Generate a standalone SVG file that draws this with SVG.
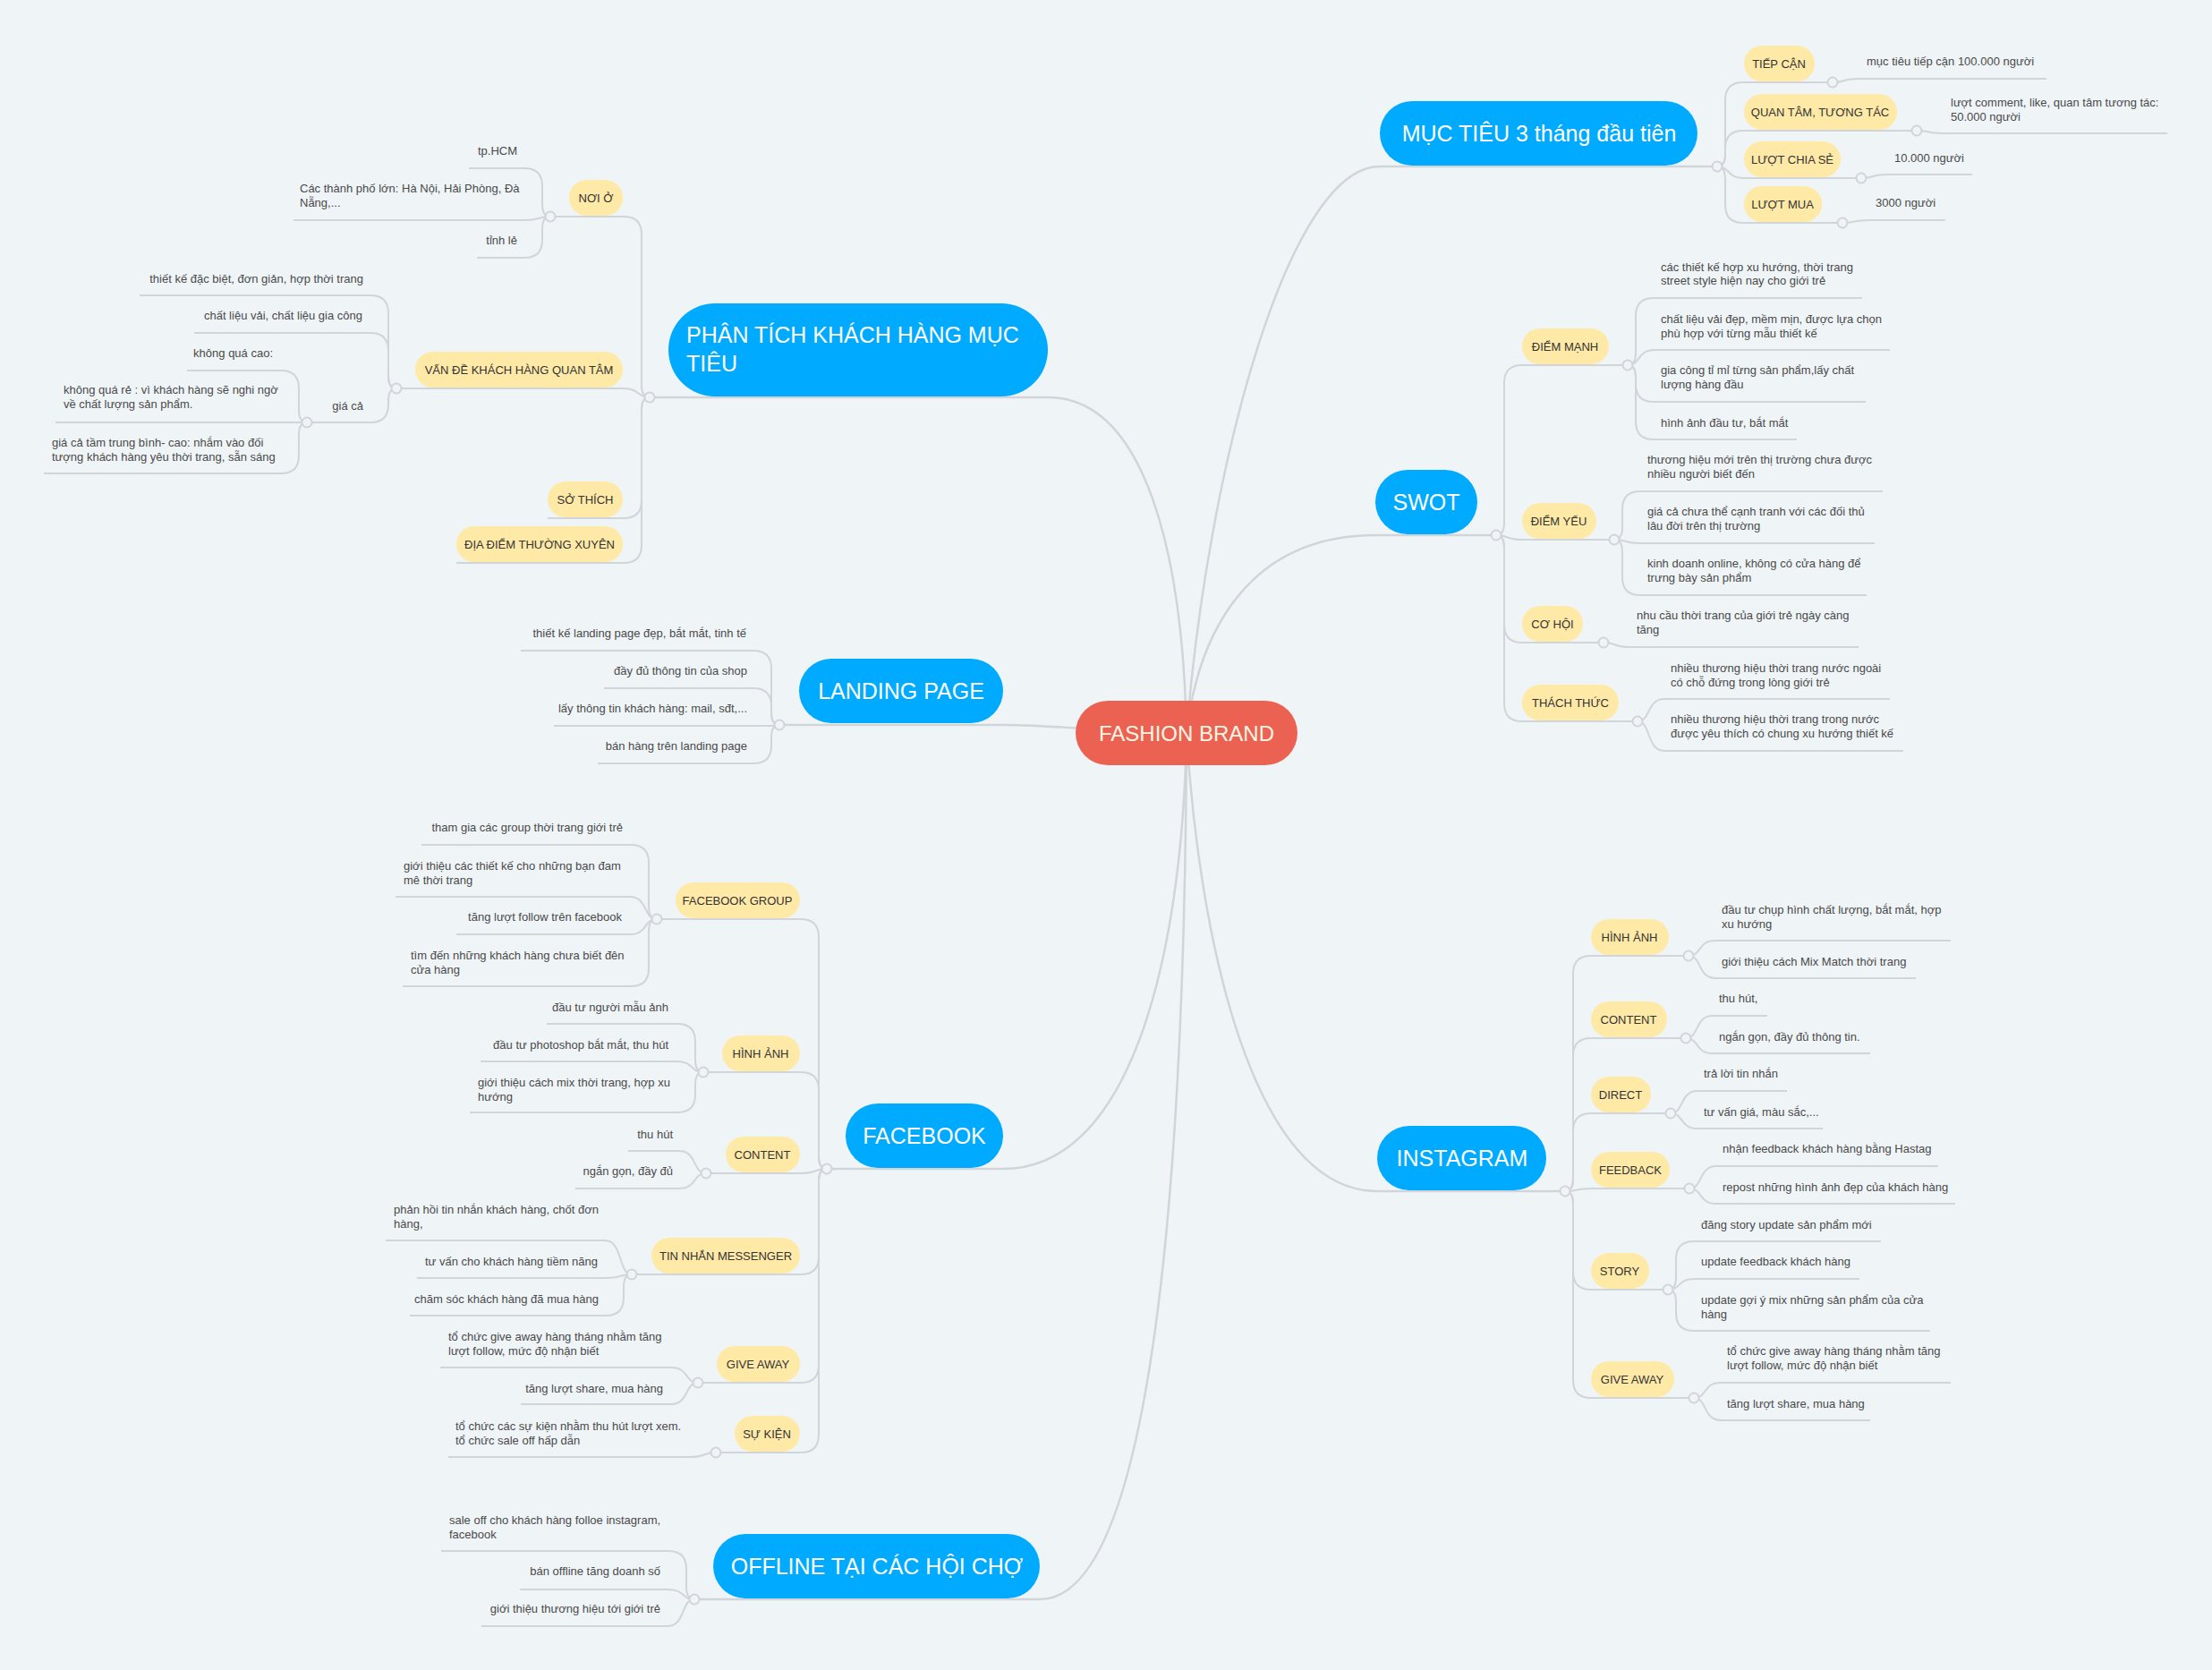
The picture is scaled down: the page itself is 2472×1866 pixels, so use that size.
<svg xmlns="http://www.w3.org/2000/svg" width="2472" height="1866" viewBox="0 0 2472 1866">
<style>
text{font-family:"Liberation Sans",Arial,sans-serif}
.c{fill:none;stroke:#D1D5D9;stroke-width:2}
.cm{fill:none;stroke:#D1D5D9;stroke-width:2.5}
.hub{fill:#EFF4F7;stroke:#D1D5D9;stroke-width:2}
.main rect{fill:#00AAFF}
.main text{fill:#FFFFFF;font-size:25px;text-anchor:middle}
.center rect{fill:#EB6253}
.center text{fill:#FFF6E5;font-size:24px;text-anchor:middle}
.sub rect{fill:#FFE9A7}
.sub text{fill:#333333;font-size:13px;text-anchor:middle}
.leaf text{fill:#4A4A4A;font-size:13px}
.e{text-anchor:end}
</style>
<rect x="0" y="0" width="2472" height="1866" fill="#EFF4F7"/>
<g id="connectors">
<!-- main -->
<path class="cm" d="M1326,819 C1322,620 1280,444 1171,444 L726,444"/>
<path class="cm" d="M1326,819 C1230,817 1170,810 1121,810 L871,810"/>
<path class="cm" d="M1326,819 C1322,1050 1270,1306 1121,1306 L924,1306"/>
<path class="cm" d="M1326,819 C1324,1300 1290,1787 1162,1787 L776,1787"/>
<path class="cm" d="M1326,819 C1350,520 1440,186 1542,186 L1919,186"/>
<path class="cm" d="M1326,819 C1340,700 1400,598 1537,598 L1672,598"/>
<path class="cm" d="M1326,819 C1340,1050 1400,1331 1539,1331 L1749,1331"/>
<!-- phan tich -->
<path class="c" d="M726,444 Q717,444 717,430 L717,262 Q717,242 697,242 L615,242"/>
<path class="c" d="M726,444 C711,444 716,434 696,434 L443,434"/>
<path class="c" d="M726,444 Q717,444 717,458 L717,559 Q717,579 697,579 L612,579"/>
<path class="c" d="M726,444 Q717,444 717,458 L717,609 Q717,629 697,629 L510,629"/>
<path class="c" d="M615,242 Q606,242 606,228 L606,208 Q606,188 586,188 L524,188"/>
<path class="c" d="M615,242 C600,242 605,246 585,246 L328,246"/>
<path class="c" d="M615,242 Q606,242 606,256 L606,268 Q606,288 586,288 L533,288"/>
<path class="c" d="M443,434 Q434,434 434,420 L434,350 Q434,330 414,330 L156,330"/>
<path class="c" d="M443,434 Q434,434 434,420 L434,392 Q434,372 414,372 L217,372"/>
<path class="c" d="M443,434 Q434,434 434,448 L434,452 Q434,472 414,472 L343,472"/>
<path class="c" d="M343,472 Q334,472 334,458 L334,434 Q334,414 314,414 L209,414"/>
<path class="c" d="M343,472 L62,472"/>
<path class="c" d="M343,472 Q334,472 334,486 L334,509 Q334,529 314,529 L49,529"/>
<!-- landing -->
<path class="c" d="M871,810 Q862,810 862,796 L862,747 Q862,727 842,727 L582,727"/>
<path class="c" d="M871,810 Q862,810 862,796 L862,789 Q862,769 842,769 L675,769"/>
<path class="c" d="M871,811 L619,811"/>
<path class="c" d="M871,810 Q862,810 862,824 L862,833 Q862,853 842,853 L668,853"/>
<!-- facebook -->
<path class="c" d="M924,1306 Q915,1306 915,1292 L915,1047 Q915,1027 895,1027 L734,1027"/>
<path class="c" d="M924,1306 Q915,1306 915,1292 L915,1218 Q915,1198 895,1198 L786,1198"/>
<path class="c" d="M924,1306 C909,1306 914,1311 894,1311 L789,1311"/>
<path class="c" d="M924,1306 Q915,1306 915,1320 L915,1404 Q915,1424 895,1424 L706,1424"/>
<path class="c" d="M924,1306 Q915,1306 915,1320 L915,1525 Q915,1545 895,1545 L780,1545"/>
<path class="c" d="M924,1306 Q915,1306 915,1320 L915,1603 Q915,1623 895,1623 L800,1623"/>
<path class="c" d="M734,1027 Q725,1027 725,1013 L725,964 Q725,944 705,944 L471,944"/>
<path class="c" d="M734,1027 C719,1027 724,1002 704,1002 L442,1002"/>
<path class="c" d="M734,1027 C719,1027 724,1044 704,1044 L510,1044"/>
<path class="c" d="M734,1027 Q725,1027 725,1041 L725,1082 Q725,1102 705,1102 L450,1102"/>
<path class="c" d="M786,1198 Q777,1198 777,1184 L777,1164 Q777,1144 757,1144 L611,1144"/>
<path class="c" d="M786,1198 C771,1198 776,1186 756,1186 L537,1186"/>
<path class="c" d="M786,1198 Q777,1198 777,1212 L777,1223 Q777,1243 757,1243 L525,1243"/>
<path class="c" d="M789,1311 C774,1311 779,1286 759,1286 L702,1286"/>
<path class="c" d="M789,1311 C774,1311 779,1328 759,1328 L643,1328"/>
<path class="c" d="M706,1424 C691,1424 696,1386 676,1386 L431,1386"/>
<path class="c" d="M706,1424 C691,1424 696,1428 676,1428 L466,1428"/>
<path class="c" d="M706,1424 Q697,1424 697,1438 L697,1450 Q697,1470 677,1470 L458,1470"/>
<path class="c" d="M780,1545 C765,1545 770,1528 750,1528 L492,1528"/>
<path class="c" d="M780,1545 C765,1545 770,1569 750,1569 L582,1569"/>
<path class="c" d="M800,1623 C785,1623 790,1628 770,1628 L501,1628"/>
<!-- offline -->
<path class="c" d="M776,1787 Q767,1787 767,1773 L767,1753 Q767,1733 747,1733 L493,1733"/>
<path class="c" d="M776,1787 C761,1787 766,1776 746,1776 L581,1776"/>
<path class="c" d="M776,1787 C761,1787 766,1817 746,1817 L538,1817"/>
<!-- muc tieu -->
<path class="c" d="M1919,186 Q1928,186 1928,172 L1928,112 Q1928,92 1948,92 L2048,92"/>
<path class="c" d="M1919,186 Q1928,186 1928,172 L1928,166 Q1928,146 1948,146 L2142,146"/>
<path class="c" d="M1919,186 C1934,186 1929,199 1949,199 L2080,199"/>
<path class="c" d="M1919,186 Q1928,186 1928,200 L1928,229 Q1928,249 1948,249 L2059,249"/>
<path class="c" d="M2048,92 C2063,92 2058,88 2078,88 L2287,88"/>
<path class="c" d="M2142,146 C2157,146 2152,149 2172,149 L2422,149"/>
<path class="c" d="M2080,199 C2095,199 2090,195 2110,195 L2204,195"/>
<path class="c" d="M2059,249 C2074,249 2069,246 2089,246 L2174,246"/>
<!-- swot -->
<path class="c" d="M1672,598 Q1681,598 1681,584 L1681,428 Q1681,408 1701,408 L1819,408"/>
<path class="c" d="M1672,598 C1687,598 1682,603 1702,603 L1804,603"/>
<path class="c" d="M1672,598 Q1681,598 1681,612 L1681,698 Q1681,718 1701,718 L1792,718"/>
<path class="c" d="M1672,598 Q1681,598 1681,612 L1681,786 Q1681,806 1701,806 L1830,806"/>
<path class="c" d="M1819,408 Q1828,408 1828,394 L1828,353 Q1828,333 1848,333 L2081,333"/>
<path class="c" d="M1819,408 C1834,408 1829,391 1849,391 L2112,391"/>
<path class="c" d="M1819,408 Q1828,408 1828,422 L1828,429 Q1828,449 1848,449 L2085,449"/>
<path class="c" d="M1819,408 Q1828,408 1828,422 L1828,471 Q1828,491 1848,491 L2008,491"/>
<path class="c" d="M1804,603 Q1813,603 1813,589 L1813,569 Q1813,549 1833,549 L2104,549"/>
<path class="c" d="M1804,603 C1819,603 1814,607 1834,607 L2095,607"/>
<path class="c" d="M1804,603 Q1813,603 1813,617 L1813,645 Q1813,665 1833,665 L2086,665"/>
<path class="c" d="M1792,718 C1807,718 1802,723 1822,723 L2077,723"/>
<path class="c" d="M1830,806 C1845,806 1840,781 1860,781 L2112,781"/>
<path class="c" d="M1830,806 C1845,806 1840,839 1860,839 L2127,839"/>
<!-- instagram -->
<path class="c" d="M1749,1331 Q1758,1331 1758,1317 L1758,1088 Q1758,1068 1778,1068 L1887,1068"/>
<path class="c" d="M1749,1331 Q1758,1331 1758,1317 L1758,1180 Q1758,1160 1778,1160 L1884,1160"/>
<path class="c" d="M1749,1331 Q1758,1331 1758,1317 L1758,1264 Q1758,1244 1778,1244 L1867,1244"/>
<path class="c" d="M1749,1331 C1764,1331 1759,1328 1779,1328 L1888,1328"/>
<path class="c" d="M1749,1331 Q1758,1331 1758,1345 L1758,1421 Q1758,1441 1778,1441 L1864,1441"/>
<path class="c" d="M1749,1331 Q1758,1331 1758,1345 L1758,1542 Q1758,1562 1778,1562 L1893,1562"/>
<path class="c" d="M1887,1068 C1902,1068 1897,1051 1917,1051 L2180,1051"/>
<path class="c" d="M1887,1068 C1902,1068 1897,1093 1917,1093 L2141,1093"/>
<path class="c" d="M1884,1160 C1899,1160 1894,1135 1914,1135 L1975,1135"/>
<path class="c" d="M1884,1160 C1899,1160 1894,1177 1914,1177 L2090,1177"/>
<path class="c" d="M1867,1244 C1882,1244 1877,1219 1897,1219 L1997,1219"/>
<path class="c" d="M1867,1244 C1882,1244 1877,1261 1897,1261 L2037,1261"/>
<path class="c" d="M1888,1328 C1903,1328 1898,1303 1918,1303 L2166,1303"/>
<path class="c" d="M1888,1328 C1903,1328 1898,1345 1918,1345 L2185,1345"/>
<path class="c" d="M1864,1441 Q1873,1441 1873,1427 L1873,1407 Q1873,1387 1893,1387 L2102,1387"/>
<path class="c" d="M1864,1441 C1879,1441 1874,1429 1894,1429 L2078,1429"/>
<path class="c" d="M1864,1441 Q1873,1441 1873,1455 L1873,1467 Q1873,1487 1893,1487 L2157,1487"/>
<path class="c" d="M1893,1562 C1908,1562 1903,1545 1923,1545 L2180,1545"/>
<path class="c" d="M1893,1562 C1908,1562 1903,1587 1923,1587 L2090,1587"/>
<!-- hubs -->
<circle class="hub" cx="726" cy="444" r="5.5"/>
<circle class="hub" cx="615" cy="242" r="5.5"/>
<circle class="hub" cx="443" cy="434" r="5.5"/>
<circle class="hub" cx="343" cy="472" r="5.5"/>
<circle class="hub" cx="871" cy="810" r="5.5"/>
<circle class="hub" cx="924" cy="1306" r="5.5"/>
<circle class="hub" cx="734" cy="1027" r="5.5"/>
<circle class="hub" cx="786" cy="1198" r="5.5"/>
<circle class="hub" cx="789" cy="1311" r="5.5"/>
<circle class="hub" cx="706" cy="1424" r="5.5"/>
<circle class="hub" cx="780" cy="1545" r="5.5"/>
<circle class="hub" cx="800" cy="1623" r="5.5"/>
<circle class="hub" cx="776" cy="1787" r="5.5"/>
<circle class="hub" cx="1919" cy="186" r="5.5"/>
<circle class="hub" cx="2048" cy="92" r="5.5"/>
<circle class="hub" cx="2142" cy="146" r="5.5"/>
<circle class="hub" cx="2080" cy="199" r="5.5"/>
<circle class="hub" cx="2059" cy="249" r="5.5"/>
<circle class="hub" cx="1672" cy="598" r="5.5"/>
<circle class="hub" cx="1819" cy="408" r="5.5"/>
<circle class="hub" cx="1804" cy="603" r="5.5"/>
<circle class="hub" cx="1792" cy="718" r="5.5"/>
<circle class="hub" cx="1830" cy="806" r="5.5"/>
<circle class="hub" cx="1749" cy="1331" r="5.5"/>
<circle class="hub" cx="1887" cy="1068" r="5.5"/>
<circle class="hub" cx="1884" cy="1160" r="5.5"/>
<circle class="hub" cx="1867" cy="1244" r="5.5"/>
<circle class="hub" cx="1888" cy="1328" r="5.5"/>
<circle class="hub" cx="1864" cy="1441" r="5.5"/>
<circle class="hub" cx="1893" cy="1562" r="5.5"/>
</g>

<!-- center -->
<g id="fashion-brand" class="center"><rect x="1202" y="783" width="248" height="72" rx="36"/><text x="1326" y="828">FASHION BRAND</text></g>

<!-- main topics -->
<g id="phan-tich" class="main"><rect x="747" y="339" width="424" height="104" rx="52"/><text x="767" y="383" style="text-anchor:start"><tspan x="767" y="383">PHÂN TÍCH KHÁCH HÀNG MỤC</tspan><tspan x="767" y="415">TIÊU</tspan></text></g>
<g id="landing-page" class="main"><rect x="893" y="736" width="228" height="72" rx="36"/><text x="1007" y="781">LANDING PAGE</text></g>
<g id="facebook" class="main"><rect x="945" y="1233" width="176" height="72" rx="36"/><text x="1033" y="1278">FACEBOOK</text></g>
<g id="offline" class="main"><rect x="797" y="1714" width="365" height="72" rx="36"/><text x="980" y="1759">OFFLINE TẠI CÁC HỘI CHỢ</text></g>
<g id="muc-tieu" class="main"><rect x="1542" y="113" width="355" height="72" rx="36"/><text x="1720" y="158">MỤC TIÊU 3 tháng đầu tiên</text></g>
<g id="swot" class="main"><rect x="1537" y="525" width="114" height="72" rx="36"/><text x="1594" y="570">SWOT</text></g>
<g id="instagram" class="main"><rect x="1539" y="1258" width="189" height="72" rx="36"/><text x="1634" y="1303">INSTAGRAM</text></g>

<!-- sub topics -->
<g id="noi-o" class="sub"><rect x="636" y="201" width="60" height="40" rx="20"/><text x="666" y="226">NƠI Ở</text></g>
<g id="van-de" class="sub"><rect x="464" y="393" width="232" height="40" rx="20"/><text x="580" y="418">VẤN ĐỀ KHÁCH HÀNG QUAN TÂM</text></g>
<g id="so-thich" class="sub"><rect x="612" y="538" width="84" height="40" rx="20"/><text x="654" y="563">SỞ THÍCH</text></g>
<g id="dia-diem" class="sub"><rect x="510" y="588" width="186" height="40" rx="20"/><text x="603" y="613">ĐỊA ĐIỂM THƯỜNG XUYÊN</text></g>
<g id="fb-group" class="sub"><rect x="755" y="986" width="139" height="40" rx="20"/><text x="824" y="1011">FACEBOOK GROUP</text></g>
<g id="fb-hinh-anh" class="sub"><rect x="807" y="1157" width="87" height="40" rx="20"/><text x="850" y="1182">HÌNH ẢNH</text></g>
<g id="fb-content" class="sub"><rect x="811" y="1270" width="83" height="40" rx="20"/><text x="852" y="1295">CONTENT</text></g>
<g id="fb-tin-nhan" class="sub"><rect x="728" y="1383" width="166" height="40" rx="20"/><text x="811" y="1408">TIN NHẮN MESSENGER</text></g>
<g id="fb-give-away" class="sub"><rect x="801" y="1504" width="93" height="40" rx="20"/><text x="847" y="1529">GIVE AWAY</text></g>
<g id="fb-su-kien" class="sub"><rect x="821" y="1582" width="73" height="40" rx="20"/><text x="857" y="1607">SỰ KIỆN</text></g>
<g id="tiep-can" class="sub"><rect x="1949" y="51" width="79" height="40" rx="20"/><text x="1988" y="76">TIẾP CẬN</text></g>
<g id="quan-tam" class="sub"><rect x="1949" y="105" width="171" height="40" rx="20"/><text x="2034" y="130">QUAN TÂM, TƯƠNG TÁC</text></g>
<g id="luot-chia-se" class="sub"><rect x="1949" y="158" width="108" height="40" rx="20"/><text x="2003" y="183">LƯỢT CHIA SẺ</text></g>
<g id="luot-mua" class="sub"><rect x="1949" y="208" width="87" height="40" rx="20"/><text x="1992" y="233">LƯỢT MUA</text></g>
<g id="diem-manh" class="sub"><rect x="1701" y="367" width="97" height="40" rx="20"/><text x="1749" y="392">ĐIỂM MẠNH</text></g>
<g id="diem-yeu" class="sub"><rect x="1701" y="562" width="83" height="40" rx="20"/><text x="1742" y="587">ĐIỂM YẾU</text></g>
<g id="co-hoi" class="sub"><rect x="1701" y="677" width="68" height="40" rx="20"/><text x="1735" y="702">CƠ HỘI</text></g>
<g id="thach-thuc" class="sub"><rect x="1701" y="765" width="108" height="40" rx="20"/><text x="1755" y="790">THÁCH THỨC</text></g>
<g id="ig-hinh-anh" class="sub"><rect x="1778" y="1027" width="87" height="40" rx="20"/><text x="1821" y="1052">HÌNH ẢNH</text></g>
<g id="ig-content" class="sub"><rect x="1778" y="1119" width="85" height="40" rx="20"/><text x="1820" y="1144">CONTENT</text></g>
<g id="ig-direct" class="sub"><rect x="1778" y="1203" width="67" height="40" rx="20"/><text x="1811" y="1228">DIRECT</text></g>
<g id="ig-feedback" class="sub"><rect x="1778" y="1287" width="88" height="40" rx="20"/><text x="1822" y="1312">FEEDBACK</text></g>
<g id="ig-story" class="sub"><rect x="1778" y="1400" width="65" height="40" rx="20"/><text x="1810" y="1425">STORY</text></g>
<g id="ig-give-away" class="sub"><rect x="1778" y="1521" width="93" height="40" rx="20"/><text x="1824" y="1546">GIVE AWAY</text></g>

<!-- leaves left -->
<g id="l-tphcm" class="leaf"><text class="e" x="578" y="173">tp.HCM</text></g>
<g id="l-thanhpho" class="leaf"><text x="335" y="215"><tspan x="335" y="215">Các thành phố lớn: Hà Nội, Hải Phòng, Đà</tspan><tspan x="335" y="231">Nẵng,...</tspan></text></g>
<g id="l-tinhle" class="leaf"><text class="e" x="578" y="273">tỉnh lẻ</text></g>
<g id="l-thietke" class="leaf"><text class="e" x="406" y="316">thiết kế đặc biệt, đơn giản, hợp thời trang</text></g>
<g id="l-chatlieu" class="leaf"><text class="e" x="405" y="357">chất liệu vải, chất liệu gia công</text></g>
<g id="l-giaca" class="leaf"><text class="e" x="406" y="458">giá cả</text></g>
<g id="l-khongcao" class="leaf"><text class="e" x="305" y="399">không quá cao:</text></g>
<g id="l-khongre" class="leaf"><text x="71" y="440"><tspan x="71" y="440">không quá rẻ : vì khách hàng sẽ nghi ngờ</tspan><tspan x="71" y="456">về chất lượng sản phẩm.</tspan></text></g>
<g id="l-tamtrung" class="leaf"><text x="58" y="499"><tspan x="58" y="499">giá cả tầm trung bình- cao: nhắm vào đối</tspan><tspan x="58" y="515">tượng khách hàng yêu thời trang, sẵn sáng</tspan></text></g>
<g id="l-lp1" class="leaf"><text class="e" x="834" y="712">thiết kế landing page đẹp, bắt mắt, tinh tế</text></g>
<g id="l-lp2" class="leaf"><text class="e" x="835" y="754">đầy đủ thông tin của shop</text></g>
<g id="l-lp3" class="leaf"><text class="e" x="835" y="796">lấy thông tin khách hàng: mail, sđt,...</text></g>
<g id="l-lp4" class="leaf"><text class="e" x="835" y="838">bán hàng trên landing page</text></g>
<g id="l-fg1" class="leaf"><text class="e" x="696" y="929">tham gia các group thời trang giới trẻ</text></g>
<g id="l-fg2" class="leaf"><text x="451" y="972"><tspan x="451" y="972">giới thiệu các thiết kế cho những bạn đam</tspan><tspan x="451" y="988">mê thời trang</tspan></text></g>
<g id="l-fg3" class="leaf"><text class="e" x="695" y="1029">tăng lượt follow trên facebook</text></g>
<g id="l-fg4" class="leaf"><text x="459" y="1072"><tspan x="459" y="1072">tìm đến những khách hàng chưa biết đên</tspan><tspan x="459" y="1088">cửa hàng</tspan></text></g>
<g id="l-fh1" class="leaf"><text class="e" x="747" y="1130">đầu tư người mẫu ảnh</text></g>
<g id="l-fh2" class="leaf"><text class="e" x="747" y="1172">đầu tư photoshop bắt mắt, thu hút</text></g>
<g id="l-fh3" class="leaf"><text x="534" y="1214"><tspan x="534" y="1214">giới thiệu cách mix thời trang, hợp xu</tspan><tspan x="534" y="1230">hướng</tspan></text></g>
<g id="l-fc1" class="leaf"><text class="e" x="752" y="1272">thu hút</text></g>
<g id="l-fc2" class="leaf"><text class="e" x="752" y="1313">ngắn gọn, đầy đủ</text></g>
<g id="l-fm1" class="leaf"><text x="440" y="1356"><tspan x="440" y="1356">phản hồi tin nhắn khách hàng, chốt đơn</tspan><tspan x="440" y="1372">hàng,</tspan></text></g>
<g id="l-fm2" class="leaf"><text class="e" x="668" y="1414">tư vấn cho khách hàng tiềm năng</text></g>
<g id="l-fm3" class="leaf"><text class="e" x="669" y="1456">chăm sóc khách hàng đã mua hàng</text></g>
<g id="l-fga1" class="leaf"><text x="501" y="1498"><tspan x="501" y="1498">tổ chức give away hàng tháng nhằm tăng</tspan><tspan x="501" y="1514">lượt follow, mức độ nhận biết</tspan></text></g>
<g id="l-fga2" class="leaf"><text class="e" x="741" y="1556">tăng lượt share, mua hàng</text></g>
<g id="l-fsk" class="leaf"><text x="509" y="1598"><tspan x="509" y="1598">tổ chức các sự kiện nhằm thu hút lượt xem.</tspan><tspan x="509" y="1614">tổ chức sale off hấp dẫn</tspan></text></g>
<g id="l-of1" class="leaf"><text x="502" y="1703"><tspan x="502" y="1703">sale off cho khách hàng folloe instagram,</tspan><tspan x="502" y="1719">facebook</tspan></text></g>
<g id="l-of2" class="leaf"><text class="e" x="738" y="1760">bán offline tăng doanh số</text></g>
<g id="l-of3" class="leaf"><text class="e" x="738" y="1802">giới thiệu thương hiệu tới giới trẻ</text></g>

<!-- leaves right -->
<g id="r-mt1" class="leaf"><text x="2086" y="73">mục tiêu tiếp cận 100.000 người</text></g>
<g id="r-mt2" class="leaf"><text x="2180" y="119"><tspan x="2180" y="119">lượt comment, like, quan tâm tương tác:</tspan><tspan x="2180" y="135">50.000 người</tspan></text></g>
<g id="r-mt3" class="leaf"><text x="2117" y="181">10.000 người</text></g>
<g id="r-mt4" class="leaf"><text x="2096" y="231">3000 người</text></g>
<g id="r-dm1" class="leaf"><text x="1856" y="303"><tspan x="1856" y="303">các thiết kế hợp xu hướng, thời trang</tspan><tspan x="1856" y="318">street style hiện nay cho giới trẻ</tspan></text></g>
<g id="r-dm2" class="leaf"><text x="1856" y="361"><tspan x="1856" y="361">chất liệu vải đẹp, mềm mịn, được lựa chọn</tspan><tspan x="1856" y="377">phù hợp với từng mẫu thiết kế</tspan></text></g>
<g id="r-dm3" class="leaf"><text x="1856" y="418"><tspan x="1856" y="418">gia công tỉ mỉ từng sản phẩm,lấy chất</tspan><tspan x="1856" y="434">lượng hàng đầu</tspan></text></g>
<g id="r-dm4" class="leaf"><text x="1856" y="477">hình ảnh đầu tư, bắt mắt</text></g>
<g id="r-dy1" class="leaf"><text x="1841" y="518"><tspan x="1841" y="518">thương hiệu mới trên thị trường chưa được</tspan><tspan x="1841" y="534">nhiều người biết đến</tspan></text></g>
<g id="r-dy2" class="leaf"><text x="1841" y="576"><tspan x="1841" y="576">giá cả chưa thể cạnh tranh với các đối thủ</tspan><tspan x="1841" y="592">lâu đời trên thị trường</tspan></text></g>
<g id="r-dy3" class="leaf"><text x="1841" y="634"><tspan x="1841" y="634">kinh doanh online, không có cửa hàng để</tspan><tspan x="1841" y="650">trưng bày sản phẩm</tspan></text></g>
<g id="r-ch" class="leaf"><text x="1829" y="692"><tspan x="1829" y="692">nhu cầu thời trang của giới trẻ ngày càng</tspan><tspan x="1829" y="708">tăng</tspan></text></g>
<g id="r-tt1" class="leaf"><text x="1867" y="751"><tspan x="1867" y="751">nhiều thương hiệu thời trang nước ngoài</tspan><tspan x="1867" y="767">có chỗ đứng trong lòng giới trẻ</tspan></text></g>
<g id="r-tt2" class="leaf"><text x="1867" y="808"><tspan x="1867" y="808">nhiều thương hiệu thời trang trong nước</tspan><tspan x="1867" y="824">được yêu thích có chung xu hướng thiết kế</tspan></text></g>
<g id="r-ih1" class="leaf"><text x="1924" y="1021"><tspan x="1924" y="1021">đầu tư chụp hình chất lượng, bắt mắt, hợp</tspan><tspan x="1924" y="1037">xu hướng</tspan></text></g>
<g id="r-ih2" class="leaf"><text x="1924" y="1079">giới thiệu cách Mix Match thời trang</text></g>
<g id="r-ic1" class="leaf"><text x="1921" y="1120">thu hút,</text></g>
<g id="r-ic2" class="leaf"><text x="1921" y="1163">ngắn gọn, đầy đủ thông tin.</text></g>
<g id="r-id1" class="leaf"><text x="1904" y="1204">trả lời tin nhắn</text></g>
<g id="r-id2" class="leaf"><text x="1904" y="1247">tư vấn giá, màu sắc,...</text></g>
<g id="r-if1" class="leaf"><text x="1925" y="1288">nhận feedback khách hàng bằng Hastag</text></g>
<g id="r-if2" class="leaf"><text x="1925" y="1331">repost những hình ảnh đẹp của khách hàng</text></g>
<g id="r-is1" class="leaf"><text x="1901" y="1373">đăng story update sản phẩm mới</text></g>
<g id="r-is2" class="leaf"><text x="1901" y="1414">update feedback khách hàng</text></g>
<g id="r-is3" class="leaf"><text x="1901" y="1457"><tspan x="1901" y="1457">update gợi ý mix những sản phẩm của cửa</tspan><tspan x="1901" y="1473">hàng</tspan></text></g>
<g id="r-ig1" class="leaf"><text x="1930" y="1514"><tspan x="1930" y="1514">tổ chức give away hàng tháng nhằm tăng</tspan><tspan x="1930" y="1530">lượt follow, mức độ nhận biết</tspan></text></g>
<g id="r-ig2" class="leaf"><text x="1930" y="1573">tăng lượt share, mua hàng</text></g>
</svg>
